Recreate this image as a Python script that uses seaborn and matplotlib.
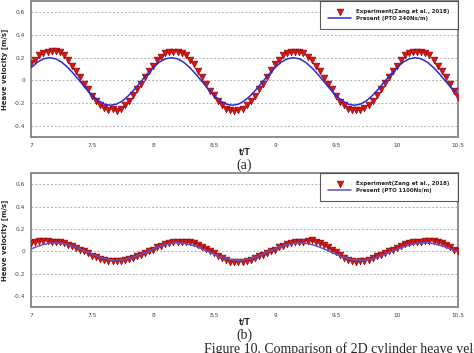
import numpy as np
import pandas as pd
import matplotlib.pyplot as plt
import seaborn as sns

# --- data ---
# simulated line, sampled every 0.05 t/T from 7 to 10.5
t_line = np.round(np.linspace(7, 10.5, 71), 3)
line_a = [0.113, 0.16, 0.19, 0.20, 0.19, 0.16, 0.113, 0.055, -0.01, -0.075,
          -0.133, -0.18, -0.21, -0.22, -0.21, -0.18, -0.133, -0.075, -0.01, 0.055,
          0.113, 0.16, 0.19, 0.20, 0.19, 0.16, 0.113, 0.055, -0.01, -0.075,
          -0.133, -0.18, -0.21, -0.22, -0.21, -0.18, -0.133, -0.075, -0.01, 0.055,
          0.113, 0.16, 0.19, 0.20, 0.19, 0.16, 0.113, 0.055, -0.01, -0.075,
          -0.133, -0.18, -0.21, -0.22, -0.21, -0.18, -0.133, -0.075, -0.01, 0.055,
          0.113, 0.16, 0.19, 0.20, 0.19, 0.16, 0.113, 0.055, -0.01, -0.07,
          -0.12]
line_b = [0.021, 0.043, 0.060, 0.071, 0.075, 0.071, 0.060, 0.043, 0.021, -0.003,
          -0.027, -0.049, -0.066, -0.077, -0.081, -0.077, -0.066, -0.049, -0.027, -0.003,
          0.021, 0.043, 0.060, 0.071, 0.075, 0.071, 0.060, 0.043, 0.021, -0.003,
          -0.027, -0.049, -0.066, -0.077, -0.081, -0.077, -0.066, -0.049, -0.027, -0.003,
          0.021, 0.043, 0.060, 0.071, 0.075, 0.071, 0.060, 0.043, 0.021, -0.003,
          -0.027, -0.049, -0.066, -0.077, -0.081, -0.077, -0.066, -0.049, -0.027, -0.003,
          0.015, 0.037, 0.055, 0.068, 0.075, 0.075, 0.068, 0.055, 0.037, 0.015,
          -0.005]

# experiment markers, roughly every 1/30 t/T
t_exp = np.round(np.linspace(7, 10.5, 106), 4)
exp_a = [0.15, 0.18, 0.22, 0.24, 0.25, 0.26, 0.26, 0.25, 0.22, 0.18,
         0.13, 0.08, 0.03, -0.03, -0.08, -0.14, -0.18, -0.22, -0.24, -0.26,
         -0.25, -0.27, -0.25, -0.22, -0.18, -0.13, -0.08, -0.03, 0.03, 0.08,
         0.13, 0.18, 0.21, 0.24, 0.25, 0.25, 0.25, 0.24, 0.22, 0.18,
         0.14, 0.08, 0.03, -0.03, -0.09, -0.13, -0.18, -0.22, -0.25, -0.26,
         -0.27, -0.26, -0.25, -0.22, -0.18, -0.14, -0.08, -0.03, 0.03, 0.09,
         0.14, 0.18, 0.22, 0.24, 0.25, 0.25, 0.25, 0.24, 0.21, 0.18,
         0.13, 0.08, 0.02, -0.03, -0.08, -0.14, -0.19, -0.22, -0.25, -0.26,
         -0.26, -0.26, -0.24, -0.22, -0.18, -0.13, -0.08, -0.02, 0.03, 0.08,
         0.13, 0.18, 0.22, 0.24, 0.25, 0.25, 0.25, 0.24, 0.22, 0.18,
         0.13, 0.08, 0.03, -0.03, -0.09, -0.15]
exp_b = [0.07, 0.08, 0.09, 0.095, 0.09, 0.085, 0.085, 0.08, 0.075, 0.06,
         0.045, 0.03, 0.015, 0.0, -0.02, -0.04, -0.055, -0.07, -0.08, -0.09,
         -0.09, -0.085, -0.085, -0.08, -0.07, -0.06, -0.045, -0.03, -0.015, 0.0,
         0.015, 0.035, 0.05, 0.065, 0.075, 0.08, 0.085, 0.085, 0.085, 0.08,
         0.07, 0.055, 0.04, 0.02, 0.0, -0.02, -0.04, -0.06, -0.08, -0.095,
         -0.1, -0.1, -0.095, -0.085, -0.075, -0.06, -0.045, -0.03, -0.015, 0.0,
         0.015, 0.035, 0.05, 0.065, 0.075, 0.08, 0.08, 0.085, 0.09, 0.1,
         0.085, 0.07, 0.055, 0.035, 0.015, -0.01, -0.035, -0.06, -0.08, -0.09,
         -0.095, -0.09, -0.085, -0.075, -0.06, -0.045, -0.03, -0.015, 0.0, 0.015,
         0.03, 0.05, 0.065, 0.075, 0.08, 0.085, 0.085, 0.09, 0.09, 0.09,
         0.085, 0.075, 0.055, 0.035, 0.015, 0.0]

y_ticks = [-0.4, -0.2, 0, 0.2, 0.4, 0.6]
y_labels = ['-0.4', '-0.2', '0', '0.2', '0.4', '0.6']
x_ticks = [7, 7.5, 8, 8.5, 9, 9.5, 10, 10.5]
x_labels = ['7', '7.5', '8', '8.5', '9', '9.5', '10', '10.5']

exp_label = 'Experiment(Zang et al., 2018)'
panels = [
    ('(a)', line_a, exp_a, 'Present (PTO 240Ns/m)', '#2a2ad6'),
    ('(b)', line_b, exp_b, 'Present (PTO 1100Ns/m)', '#5a55c8'),
]

sns.set_style('white')
plt.rcParams['font.family'] = ['DejaVu Sans']

fig = plt.figure(figsize=(4.74, 3.53), dpi=100)
boxes = [[0.066, 0.612, 0.900, 0.385], [0.066, 0.130, 0.900, 0.380]]

for box, (tag, line_vals, exp_vals, line_label, line_col) in zip(boxes, panels):
    ax = fig.add_axes(box)
    df_exp = pd.DataFrame({'t': t_exp, 'v': exp_vals})
    df_line = pd.DataFrame({'t': t_line, 'v': line_vals})
    sns.scatterplot(data=df_exp, x='t', y='v', ax=ax, marker='v', s=24,
                    color='#d01818', edgecolor='#8a0000', linewidth=0.4,
                    label=exp_label, zorder=3)
    sns.lineplot(data=df_line, x='t', y='v', ax=ax, color=line_col,
                 linewidth=1.1, label=line_label, zorder=4)

    ax.set_xlim(7, 10.5)
    ax.set_ylim(-0.5, 0.7)
    ax.set_xticks(x_ticks)
    ax.set_xticklabels(x_labels)
    ax.set_yticks(y_ticks)
    ax.set_yticklabels(y_labels)
    ax.tick_params(labelsize=4.2, colors='#444444', length=2, width=0.5, pad=2.5)
    ax.yaxis.grid(True, linestyle=(0, (2, 2)), color='#b0b0b0', linewidth=0.7)
    ax.xaxis.grid(False)
    for sp in ax.spines.values():
        sp.set_color('#8c8c8c')
        sp.set_linewidth(1.4)

    ax.set_xlabel('t/T', fontsize=5.5, fontweight='bold', labelpad=-0.5)
    ax.set_ylabel('Heave velocity [m/s]', fontsize=5, fontweight='bold', labelpad=4)

    leg = ax.legend(loc='upper right', fontsize=4.0, frameon=True, fancybox=False,
                    borderaxespad=0, borderpad=1.5, handlelength=4.2,
                    labelspacing=0.25, handletextpad=0.9)
    leg.get_frame().set_edgecolor('#333333')
    leg.get_frame().set_linewidth(0.8)
    for txt in leg.get_texts():
        txt.set_fontweight('bold')

    ax.text(0.5, -0.16, tag, transform=ax.transAxes, ha='center', va='top',
            fontsize=10, family='Liberation Serif')

fig.text(0.43, 0.03, 'Figure 10. Comparison of 2D cylinder heave velocity in regular waves (with PTO',
         ha='left', va='top', fontsize=10, family='Liberation Serif')

fig.savefig('out.png', dpi=100)
